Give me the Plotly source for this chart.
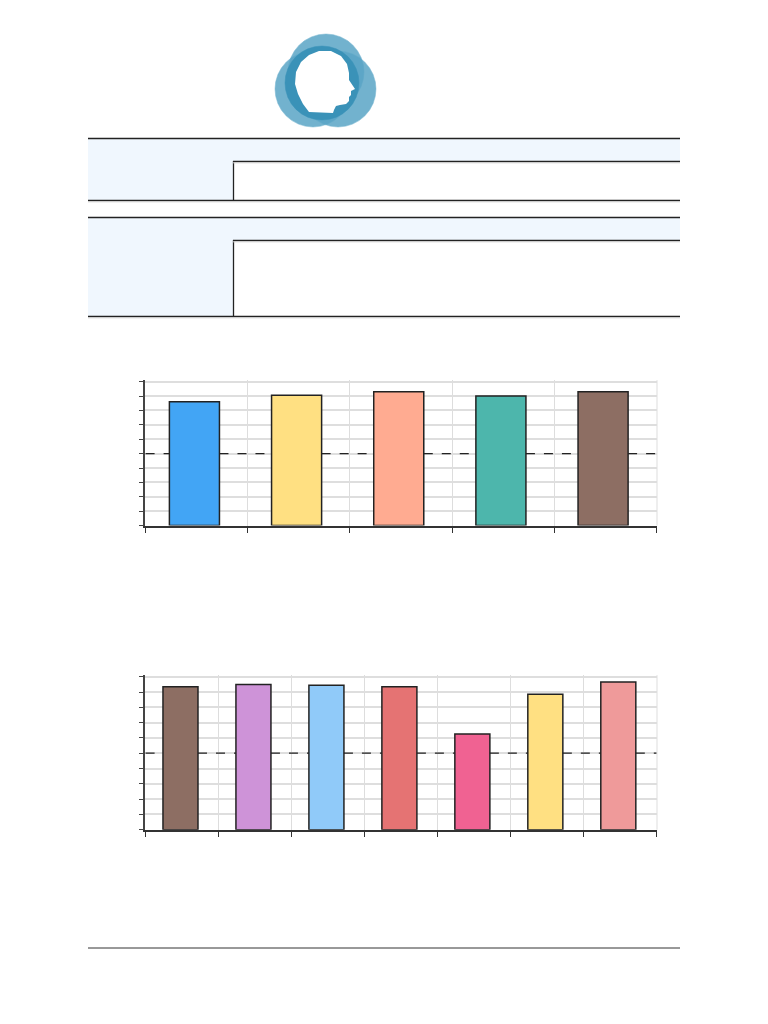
import plotly.graph_objects as go

# page is rendered with an 8px body margin, so work in window pixels and offset
OFF = 8
W, H = 768 - 2 * OFF, 1024 - 2 * OFF

# ---------------- data ----------------
cats1 = ["C1", "C2", "C3", "C4", "C5"]
vals1 = [8.6, 9.05, 9.3, 9.0, 9.3]
colors1 = ["#42A5F5", "#FFE082", "#FFAB91", "#4DB6AC", "#8D6E63"]

cats2 = ["D1", "D2", "D3", "D4", "D5", "D6", "D7"]
vals2 = [9.35, 9.5, 9.45, 9.35, 6.25, 8.85, 9.65]
colors2 = ["#8D6E63", "#CE93D8", "#90CAF9", "#E57373", "#F06292", "#FFE082", "#EF9A9A"]

ref_level = 5
y_max = 10.1
y_ticks = list(range(0, 11))
BW1, BW2 = 0.49, 0.48
SHIFT = -0.022  # bars sit slightly left of band centre


def px(x, y):
    return (x - OFF) / W, 1 - (y - OFF) / H


fig = go.Figure()

fig.add_trace(go.Bar(x=cats1, y=vals1, marker=dict(color=colors1, line=dict(color="#222", width=1.5)),
                     width=BW1, offset=-BW1 / 2 + SHIFT, xaxis="x", yaxis="y", showlegend=False,
                     hoverinfo="skip"))
fig.add_trace(go.Bar(x=cats2, y=vals2, marker=dict(color=colors2, line=dict(color="#222", width=1.5)),
                     width=BW2, offset=-BW2 / 2 + SHIFT, xaxis="x2", yaxis="y2", showlegend=False,
                     hoverinfo="skip"))

xdom = [px(145, 0)[0], px(657, 0)[0]]
y1dom = [px(0, 525.6)[1], px(0, 380.2)[1]]
y2dom = [px(0, 829.7)[1], px(0, 675.2)[1]]

xcommon = dict(domain=xdom, type="category", tickson="boundaries", showgrid=True, gridcolor="#dddddd",
               gridwidth=1, showline=True, linecolor="#333", linewidth=2, ticks="outside", ticklen=5,
               tickcolor="#333", showticklabels=False, zeroline=False, fixedrange=True,
               range=[-0.5, None])
xcommon.pop("range")
ycommon = dict(range=[0, y_max], tickmode="array", tickvals=y_ticks, showgrid=True, gridcolor="#dedede",
               gridwidth=1.5, showline=True, linecolor="#444", linewidth=1.5, ticks="outside", ticklen=4,
               tickcolor="#444", showticklabels=False, zeroline=False, fixedrange=True)

shapes = []
# reference dashed line, drawn only in the gaps between bars (bars sit in front of it)
for xr, yr, vals, bw in (("x", "y", vals1, BW1), ("x2", "y2", vals2, BW2)):
    n = len(vals)
    edges = [-0.5]
    for i, v in enumerate(vals):
        if v >= ref_level:
            edges += [i - bw / 2 + SHIFT, i + bw / 2 + SHIFT]
    edges.append(n - 0.5)
    for a, b in zip(edges[0::2], edges[1::2]):
        shapes.append(dict(type="line", xref=xr, yref=yr, x0=a, x1=b, y0=ref_level, y1=ref_level,
                           line=dict(color="#222", width=1.2, dash="dash"), layer="above"))

# right border gridline for plots
for yd in (y1dom, y2dom):
    shapes.append(dict(type="line", xref="paper", yref="paper", x0=xdom[1], x1=xdom[1], y0=yd[0], y1=yd[1],
                       line=dict(color="#dddddd", width=1), layer="below"))


def rect(x0, y0, x1, y1, fill):
    a = px(x0, y0)
    b = px(x1, y1)
    shapes.append(dict(type="rect", xref="paper", yref="paper", x0=a[0], y0=b[1], x1=b[0], y1=a[1],
                       fillcolor=fill, line=dict(width=0), layer="below"))


def line(x0, y0, x1, y1, color="#222", width=1.3):
    a = px(x0, y0)
    b = px(x1, y1)
    shapes.append(dict(type="line", xref="paper", yref="paper", x0=a[0], y0=a[1], x1=b[0], y1=b[1],
                       line=dict(color=color, width=width)))


BL = "#F0F7FE"
# table 1
rect(88, 139, 680, 161, BL)
rect(88, 161, 233, 200, BL)
line(88, 138.5, 680, 138.5)
line(233, 161.5, 680, 161.5)
line(233.5, 161, 233.5, 200)
line(88, 200.5, 680, 200.5)
line(233, 162.8, 680, 162.8, "#cfcfcf", 1)
line(88, 201.8, 680, 201.8, "#cfcfcf", 1)
# table 2
rect(88, 218, 680, 240, BL)
rect(88, 240, 233, 316, BL)
line(88, 217.5, 680, 217.5)
line(233, 240.5, 680, 240.5)
line(233.5, 240, 233.5, 316)
line(88, 316.5, 680, 316.5)
line(233, 241.8, 680, 241.8, "#cfcfcf", 1)
line(88, 317.8, 680, 317.8, "#cfcfcf", 1)
# footer
line(88, 948, 680, 948, "#333", 1)


# logo
def circle(cx, cy, r, fill, opacity, lc="#5fa9c8"):
    a = px(cx - r, cy - r)
    b = px(cx + r, cy + r)
    shapes.append(dict(type="circle", xref="paper", yref="paper", x0=a[0], x1=b[0], y0=b[1], y1=a[1],
                       fillcolor=fill, opacity=opacity, line=dict(width=0.5, color=lc)))


circle(326, 72, 38, "#5AA5C6", 0.85)
circle(313, 89, 38, "#5AA5C6", 0.85)
circle(338, 89, 38, "#5AA5C6", 0.85)
circle(322, 83, 37, "#3A92B8", 1.0, "#3A92B8")

head_pts = [(309, 112), (303, 104), (298, 94), (295, 84), (296, 72), (301, 62), (309, 55), (319, 51),
            (331, 51), (341, 56), (347, 64), (349, 73), (349, 80), (353, 86), (355, 89), (351, 91),
            (351, 95), (349, 97), (349, 101), (346, 104), (340, 105), (336, 106), (334, 110), (333, 113)]
d = "M " + " L ".join("%.5f,%.5f" % px(x, y) for x, y in head_pts) + " Z"
shapes.append(dict(type="path", xref="paper", yref="paper", path=d, fillcolor="white",
                   line=dict(width=0)))

fig.update_layout(
    width=W, height=H, margin=dict(l=0, r=0, t=0, b=0),
    paper_bgcolor="white", plot_bgcolor="white",
    xaxis=dict(**xcommon, anchor="y"),
    yaxis=dict(**ycommon, domain=y1dom, anchor="x"),
    xaxis2=dict(**xcommon, anchor="y2"),
    yaxis2=dict(**ycommon, domain=y2dom, anchor="x2"),
    shapes=shapes, showlegend=False,
)

fig.write_html("out.html", config={"displayModeBar": False})
